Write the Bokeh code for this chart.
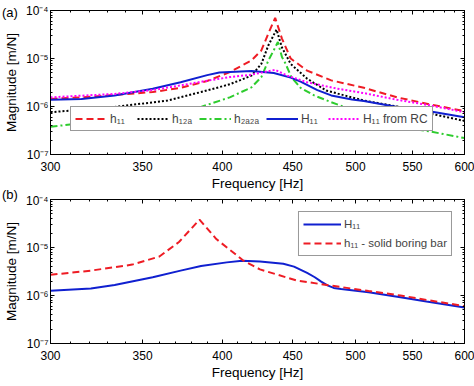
from bokeh.plotting import figure
from bokeh.models import (LogAxis, FixedTicker, CustomJSTickFormatter, Range1d, Legend, LegendItem, Div)
from bokeh.layouts import column
from bokeh.embed import file_html
from bokeh.resources import INLINE

# ---------------- data ----------------
# panel (a)
f_h11 = [300, 316, 334, 356, 373, 390, 405, 420, 427, 432, 437, 442, 448.5, 461, 480, 507, 536, 567, 600]
v_h11 = [1.44e-6, 1.55e-6, 1.74e-6, 2.0e-6, 2.45e-6, 3.4e-6, 5.2e-6, 9.1e-6, 1.47e-5, 3.3e-5, 7.0e-5,
         2.6e-5, 1.0e-5, 5.6e-6, 3.5e-6, 2.45e-6, 1.55e-6, 1.1e-6, 8.0e-7]

f_h12a = [300, 334, 365, 386, 405, 420, 427, 432, 438, 442, 448.5, 461, 476, 507, 536, 567, 600]
v_h12a = [7.6e-7, 9.8e-7, 1.33e-6, 2.0e-6, 2.9e-6, 4.4e-6, 7.7e-6, 1.87e-5, 4.0e-5, 1.7e-5, 7.7e-6,
          3.8e-6, 2.15e-6, 1.33e-6, 1.0e-6, 7.1e-7, 5.0e-7]

f_h2a2a = [300, 310, 350, 386, 405, 420, 427, 432, 437, 439, 442, 444.5, 449, 456, 466.5, 480, 500, 525, 550, 567, 600]
v_h2a2a = [3.8e-7, 4.2e-7, 6.0e-7, 9.8e-7, 1.55e-6, 2.5e-6, 4.1e-6, 9.0e-6, 1.7e-5, 2.2e-5, 1.07e-5, 8.0e-6,
           4.1e-6, 2.45e-6, 1.7e-6, 1.23e-6, 8.0e-7, 4.8e-7, 3.4e-7, 3.0e-7, 2.2e-7]

f_H11a = [300, 316, 334, 356, 373, 390, 398, 420, 436, 448.5, 456, 469, 480, 497, 507, 536, 567, 600]
v_H11a = [1.38e-6, 1.44e-6, 1.7e-6, 2.35e-6, 3.2e-6, 4.5e-6, 5.1e-6, 5.5e-6, 5.0e-6, 4.0e-6, 3.3e-6,
          2.2e-6, 1.7e-6, 1.4e-6, 1.3e-6, 9.8e-7, 7.9e-7, 6.0e-7]

f_RC = [300, 334, 356, 373, 390, 405, 420, 437, 446, 461, 485, 507, 536, 567, 600]
v_RC = [1.55e-6, 1.83e-6, 2.2e-6, 2.75e-6, 3.45e-6, 4.1e-6, 4.6e-6, 5.8e-6, 4.4e-6, 3.2e-6, 2.35e-6,
        1.9e-6, 1.38e-6, 1.05e-6, 7.6e-7]

# panel (b)
f_H11b = [300, 321, 334, 356, 373, 386, 403, 413.5, 426, 443, 451, 461, 467, 472, 477, 482, 488, 511, 539, 563, 600]
v_H11b = [1.26e-6, 1.4e-6, 1.66e-6, 2.4e-6, 3.3e-6, 4.1e-6, 4.9e-6, 5.3e-6, 5.1e-6, 4.6e-6, 4.0e-6,
          2.95e-6, 2.4e-6, 1.94e-6, 1.62e-6, 1.44e-6, 1.36e-6, 1.17e-6, 9.2e-7, 7.5e-7, 5.6e-7]

f_solid = [300, 321, 344, 360, 372, 385, 396, 408.5, 414, 426, 453, 479, 511, 539, 563, 600]
v_solid = [2.7e-6, 3.3e-6, 4.4e-6, 6.5e-6, 1.3e-5, 3.8e-5, 1.5e-5, 7.4e-6, 5.4e-6, 3.5e-6, 2.05e-6,
           1.62e-6, 1.24e-6, 1.0e-6, 8.1e-7, 6.0e-7]

x_ticks = [300, 350, 400, 450, 500, 550, 600]
x_minor = list(range(300, 601, 10))
y_ticks = [1e-7, 1e-6, 1e-5, 1e-4]
y_minor = [k * 10.0 ** e for e in (-7, -6, -5) for k in range(1, 10)] + [1e-4]

labels_a = ["h\u2081\u2081", "h\u2081\u2082\u2090", "h\u2082\u2090\u2082\u2090", "H\u2081\u2081", "H\u2081\u2081 from RC"]
labels_b = ["H\u2081\u2081", "h\u2081\u2081 - solid boring bar"]
panel_tags = ["(a)", "(b)"]

FONT = "Liberation Sans"
RED, BLK, GRN, BLU, MAG = "#ee1c24", "#000000", "#2ecc2e", "#1020d0", "#ff00ff"

sup_js = """
const e = Math.round(Math.log10(tick));
const m = {"-":"\u207b","0":"\u2070","1":"\u00b9","2":"\u00b2","3":"\u00b3","4":"\u2074","5":"\u2075","6":"\u2076","7":"\u2077","8":"\u2078","9":"\u2079"};
return "10" + String(e).split("").map(c => m[c]).join("");
"""
blank_js = "return '';"


def style_axis(ax, labels=True):
    ax.major_tick_in = 4
    ax.major_tick_out = 0
    ax.minor_tick_in = 2
    ax.minor_tick_out = 0
    ax.axis_line_color = "black"
    ax.major_tick_line_color = "black"
    ax.minor_tick_line_color = "black"
    ax.major_label_text_font = FONT
    ax.major_label_text_font_size = "12px"
    ax.major_label_text_color = "black"
    ax.axis_label_text_font = FONT
    ax.axis_label_text_font_size = "13.5px"
    ax.axis_label_text_font_style = "normal"
    ax.axis_label_text_color = "black"
    if not labels:
        ax.major_label_standoff = 0


def make_fig(top_border, bottom_border):
    p = figure(frame_width=414, frame_height=144, x_axis_type="log", y_axis_type="log",
               x_range=Range1d(300, 600), y_range=Range1d(1e-7, 1e-4),
               output_backend="svg", toolbar_location=None,
               min_border_left=50, min_border_right=10,
               min_border_top=top_border, min_border_bottom=bottom_border)
    p.grid.visible = False
    p.outline_line_color = "black"
    p.background_fill_color = "white"
    p.border_fill_color = None
    xa, ya = p.xaxis[0], p.yaxis[0]
    xa.ticker = FixedTicker(ticks=x_ticks, minor_ticks=x_minor)
    ya.ticker = FixedTicker(ticks=y_ticks, minor_ticks=y_minor)
    ya.formatter = CustomJSTickFormatter(code=sup_js)
    xa.axis_label = "Frequency [Hz]"
    ya.axis_label = "Magnitude [m/N]"
    style_axis(xa)
    style_axis(ya)
    xa.major_label_standoff = 7
    ya.major_label_standoff = 2
    xa.axis_label_standoff = 2
    ya.axis_label_standoff = 4
    top = LogAxis(ticker=FixedTicker(ticks=x_ticks, minor_ticks=x_minor),
                  formatter=CustomJSTickFormatter(code=blank_js))
    right = LogAxis(ticker=FixedTicker(ticks=y_ticks, minor_ticks=y_minor),
                    formatter=CustomJSTickFormatter(code=blank_js))
    style_axis(top, labels=False)
    style_axis(right, labels=False)
    p.add_layout(top, "above")
    p.add_layout(right, "right")
    return p


def tag(text, left, top):
    return Div(text=text, width=24, height=16, margin=0,
               styles={"position": "absolute", "left": f"{left}px", "top": f"{top}px",
                       "font-family": FONT, "font-size": "13px", "line-height": "16px",
                       "color": "black", "z-index": "5", "white-space": "nowrap"})


# ---------------- panel (a) ----------------
pa = make_fig(10, 39)
r1 = pa.line(f_h11, v_h11, line_color=RED, line_width=2, line_dash="7 4")
r2 = pa.line(f_h12a, v_h12a, line_color=BLK, line_width=2, line_dash="2 2")
r3 = pa.line(f_h2a2a, v_h2a2a, line_color=GRN, line_width=2, line_dash="7 3 2 3")
r4 = pa.line(f_H11a, v_H11a, line_color=BLU, line_width=2)
r5 = pa.line(f_RC, v_RC, line_color=MAG, line_width=2, line_dash="2 2")
leg_a = Legend(items=[LegendItem(label=l, renderers=[r]) for l, r in zip(labels_a, [r1, r2, r3, r4, r5])],
               orientation="horizontal", location=(20, 23))
leg_a.label_text_font = FONT
leg_a.label_text_font_size = "12px"
leg_a.glyph_width = 32
leg_a.glyph_height = 15
leg_a.label_height = 15
leg_a.label_standoff = 3
leg_a.spacing = 7
leg_a.padding = 4
leg_a.margin = 0
leg_a.border_line_color = "#333333"
leg_a.background_fill_alpha = 1
pa.add_layout(leg_a, "center")

# ---------------- panel (b) ----------------
pb = make_fig(6, 43)
s1 = pb.line(f_H11b, v_H11b, line_color=BLU, line_width=2)
s2 = pb.line(f_solid, v_solid, line_color=RED, line_width=2, line_dash="7 4")
leg_b = Legend(items=[LegendItem(label=l, renderers=[r]) for l, r in zip(labels_b, [s1, s2])],
               location="top_right")
leg_b.label_text_font = FONT
leg_b.label_text_font_size = "11.5px"
leg_b.glyph_width = 38
leg_b.glyph_height = 16
leg_b.label_height = 16
leg_b.label_standoff = 3
leg_b.spacing = 3
leg_b.padding = 4
leg_b.margin = 12
leg_b.border_line_color = "#333333"
pb.add_layout(leg_b, "center")

p = column(pa, pb, tag(panel_tags[0], 2, 5), tag(panel_tags[1], 2, 187), spacing=0)

open("out.html", "w").write(file_html(p, INLINE))
